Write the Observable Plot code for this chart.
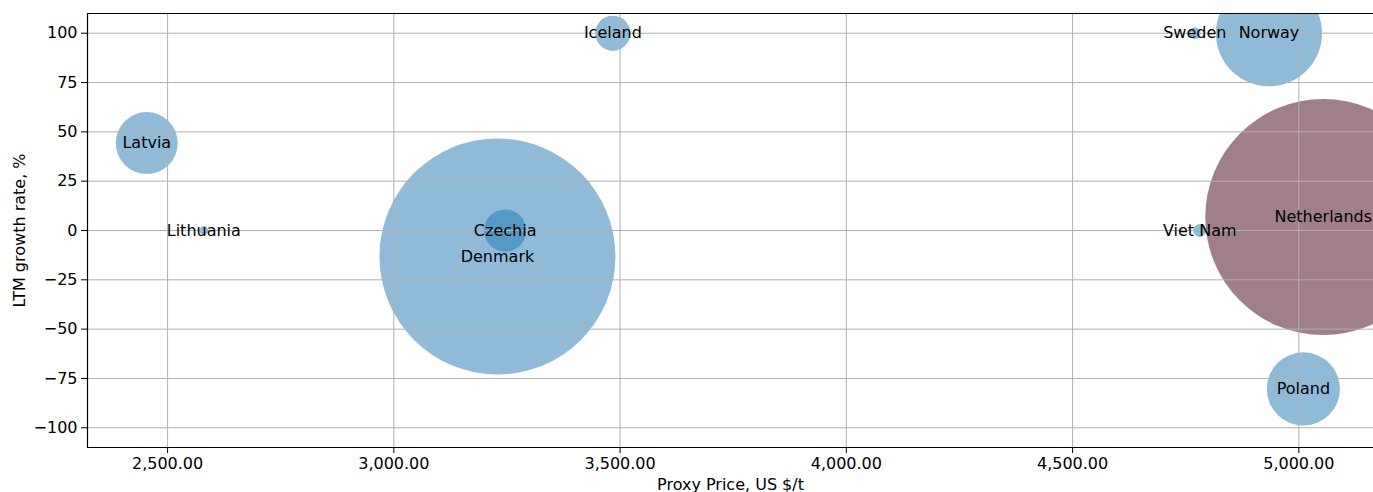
<!DOCTYPE html>
<html>
<head>
<meta charset="utf-8">
<script src="https://cdn.jsdelivr.net/npm/d3@7"></script>
<script src="https://cdn.jsdelivr.net/npm/@observablehq/plot@0.6"></script>
<style>
  html, body { margin: 0; padding: 0; background: #fff; overflow: hidden; }
  svg { display: block; }
</style>
</head>
<body>
<script>
const countries = ["Latvia", "Lithuania", "Denmark", "Czechia", "Iceland", "Sweden", "Norway", "Viet Nam", "Netherlands", "Poland"];
const proxyPrice = [2454, 2580, 3229, 3246, 3484, 4770, 4934, 4781, 5054, 5010];
const growthRate = [44.3, 0, -13.2, 0, 100, 100, 100, 0, 6.8, -80.3];
const volume = [69, 1.4, 1000, 32, 22, 2.4, 202, 3.0, 1000, 96];
const highlighted = "Netherlands";
const xTicks = [2500, 3000, 3500, 4000, 4500, 5000];
const yTicks = [-100, -75, -50, -25, 0, 25, 50, 75, 100];

const data = countries.map((c, i) => ({
  country: c, price: proxyPrice[i], growth: growthRate[i], volume: volume[i],
  hl: c === highlighted
}));

const xDomain = [2323, 5165];
const yDomain = [-110, 110];
const fmtY = d => d < 0 ? "\u2212" + Math.abs(d) : String(d);

const chart = Plot.plot({
  width: 1373,
  height: 492,
  marginLeft: 87,
  marginRight: 0,
  marginTop: 13,
  marginBottom: 45,
  style: { fontFamily: "'DejaVu Sans', sans-serif", fontSize: "16px", color: "black", background: "white" },
  x: { type: "linear", domain: xDomain },
  y: { type: "linear", domain: yDomain },
  r: { type: "sqrt", domain: [0, 1000], range: [0, 118] },
  marks: [
    Plot.dot(data, {
      x: "price", y: "growth", r: "volume",
      fill: d => d.hl ? "#420016" : "#1f77b4",
      fillOpacity: 0.5, stroke: "none", clip: true, sort: null
    }),
    Plot.gridX(xTicks, { stroke: "#b0b0b0", strokeOpacity: 1, strokeWidth: 1 }),
    Plot.gridY(yTicks, { stroke: "#b0b0b0", strokeOpacity: 1, strokeWidth: 1 }),
    Plot.text(data, {
      x: "price", y: "growth", text: "country",
      fill: "black", fontSize: 16, textAnchor: "middle", lineAnchor: "middle", clip: true
    }),
    Plot.axisX(xTicks, {
      tickFormat: d3.format(",.2f"), tickSize: 6, tickPadding: 4,
      label: "Proxy Price, US $/t", labelAnchor: "center", labelArrow: "none", labelOffset: 42
    }),
    Plot.axisY(yTicks, {
      tickFormat: fmtY, tickSize: 6, tickPadding: 4,
      label: "LTM growth rate, %", labelAnchor: "center", labelArrow: "none", labelOffset: 74
    }),
    Plot.ruleX([xDomain[0]], { stroke: "black", strokeWidth: 1.2 }),
    Plot.ruleY(yDomain, { stroke: "black", strokeWidth: 1.2 })
  ]
});
document.body.append(chart);
</script>
</body>
</html>
